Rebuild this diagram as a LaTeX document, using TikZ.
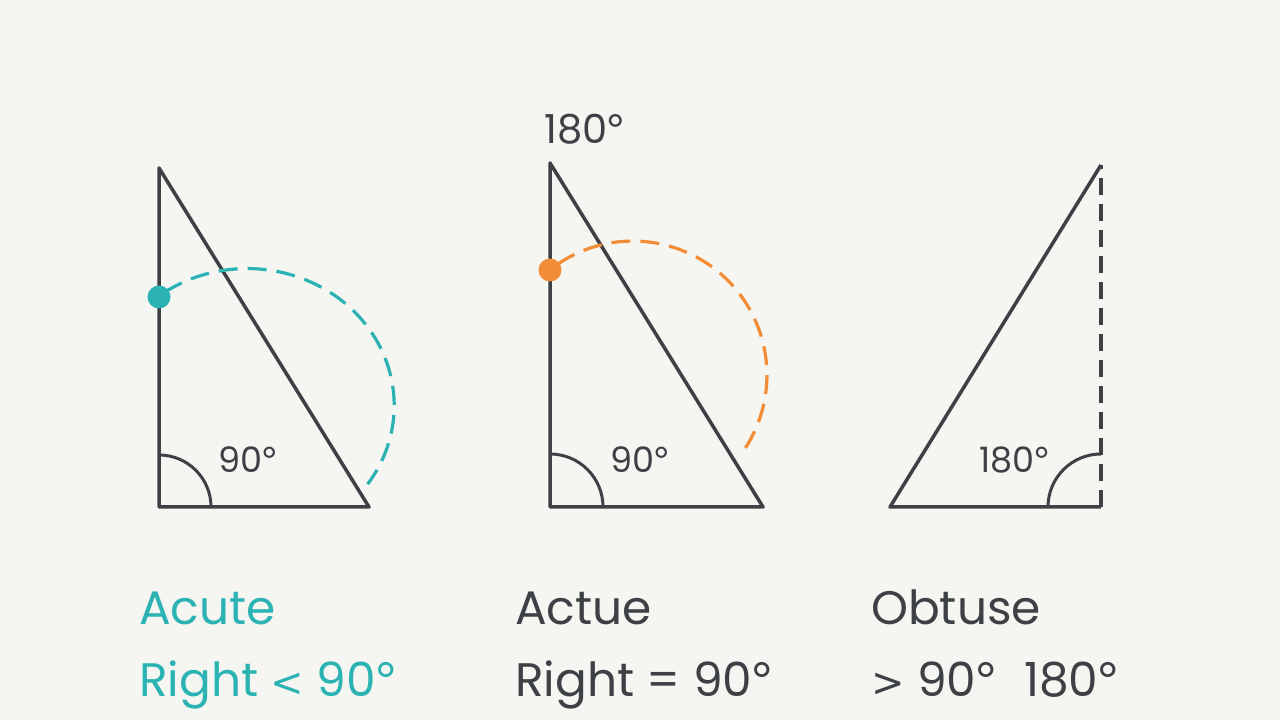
\documentclass[tikz,border=0pt]{standalone}
\usepackage{fontspec}
\setmainfont{Poppins}
\newfontfamily\symfont{Lato}
\newfontfamily\relfont{DejaVu Sans}
\newcommand\dg{{\symfont °}}
\newcommand\rel[1]{{\relfont\fontsize{40}{44}\selectfont #1}}
\definecolor{bgc}{HTML}{F5F5F1}
\definecolor{ink}{HTML}{3D4146}
\definecolor{teal}{HTML}{2BB3B4}
\definecolor{orng}{HTML}{F28C36}
\begin{document}
\begin{tikzpicture}[x=1pt,y=1pt,
  edge/.style={draw=ink,line width=3.5pt,line join=round},
  dashedge/.style={draw=ink,line width=3.3pt,dash pattern=on 17pt off 9pt},
  arcmark/.style={draw=ink,line width=3pt},
  swing/.style={line width=3.2pt,dash pattern=on 19pt off 10pt},
  small/.style={text=ink,inner sep=0pt,anchor=base west,font=\fontsize{35}{40}\selectfont},
  big/.style={inner sep=0pt,anchor=base west,font=\fontsize{47}{52}\selectfont},
  dot/.style={circle,inner sep=0pt,minimum size=23pt}]
\fill[bgc] (0,0) rectangle (1280,720);
\useasboundingbox (0,0) rectangle (1280,720);
% triangle 1
\coordinate (t1a) at (159,552);
\coordinate (t1b) at (159,213);
\coordinate (t1c) at (369,213);
\draw[edge] (t1a) -- (t1b) -- (t1c) -- cycle;
\draw[arcmark] ([yshift=52pt]t1b) arc[start angle=90,end angle=0,radius=52];
\node[dot,fill=teal] (d1) at (159,423) {};
\draw[swing,teal] (d1.center) ++(6,5) arc[start angle=124,end angle=-35,x radius=147,y radius=137];
\node[small] (l1) at (218,247) {90\dg};
% triangle 2
\coordinate (t2a) at (550,557);
\coordinate (t2b) at (550,213);
\coordinate (t2c) at (763,213);
\draw[edge] (t2a) -- (t2b) -- (t2c) -- cycle;
\draw[arcmark] ([yshift=53pt]t2b) arc[start angle=90,end angle=0,radius=53];
\node[dot,fill=orng] (d2) at (550,450) {};
\draw[swing,orng] (d2.center) ++(8,6) arc[start angle=124,end angle=-36,radius=134];
\node[small] (l2) at (610,247) {90\dg};
\node[small,font=\fontsize{40}{44}\selectfont] (l3) at (544,576) {180\dg};
% triangle 3
\coordinate (t3a) at (1101,555);
\coordinate (t3b) at (890,213);
\coordinate (t3c) at (1101,213);
\draw[edge] (t3a) -- (t3b) -- (t3c);
\draw[dashedge] (t3c) -- (t3a);
\draw[arcmark] ([yshift=53pt]t3c) arc[start angle=90,end angle=180,radius=53];
\node[small] (l4) at (979,247) {180\dg};
% captions
\node[big,text=teal] (c1) at (139,95) {Acute};
\node[big,text=teal] (c2) at (139,23) {Right \rel{<} 90\dg};
\node[big,text=ink] (c3) at (515,95) {Actue};
\node[big,text=ink] (c4) at (515,23) {Right = 90\dg};
\node[big,text=ink] (c5) at (871,95) {Obtuse};
\node[big,text=ink] (c6) at (871,23) {\rel{>} 90\dg\hspace{0.6em}180\dg};
\end{tikzpicture}
\end{document}
